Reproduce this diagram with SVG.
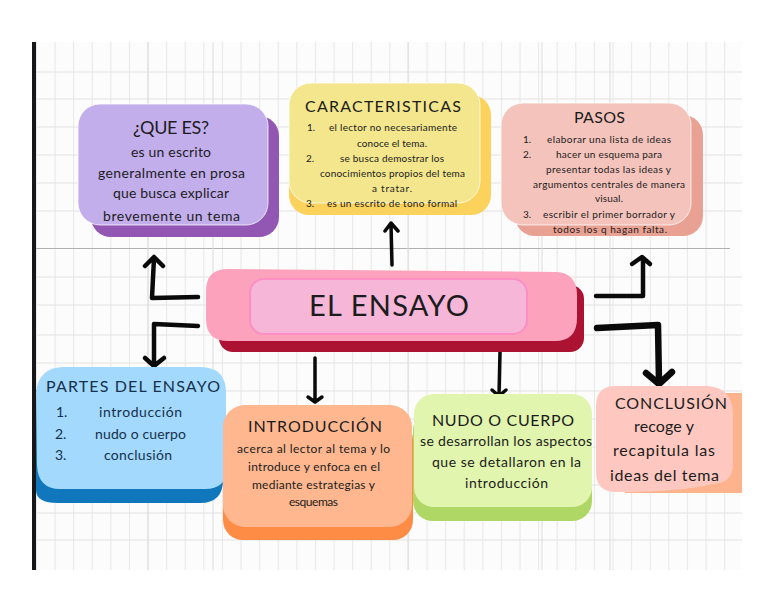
<svg xmlns="http://www.w3.org/2000/svg" width="768" height="594" viewBox="0 0 768 594">
<style>
text{font-family:"Lato","Noto Sans",sans-serif;fill:#1c1c1c}
.h{font-size:16px}
.s{font-size:10px}
.m{font-size:12px}
.b{font-size:14px}
.c{font-size:16px}
.blue{fill:#17304c}
.edge{fill:none;stroke:#0a0a0a;stroke-linecap:round;stroke-linejoin:round;stroke-width:3.5}
.thin{stroke:#ffffff;stroke-opacity:.75;stroke-width:1}
</style>
<defs>
<pattern id="vg" x="32" y="42" width="18.6" height="600" patternUnits="userSpaceOnUse">
<path d="M4.5 0V600" stroke="#e6e6e6" stroke-width="1" fill="none"/>
</pattern>
</defs>
<rect width="768" height="594" fill="#ffffff"/>
<g id="paper">
<rect x="32" y="42" width="710" height="528" fill="#fcfcfc"/>
<rect x="36" y="42" width="706" height="528" fill="url(#vg)"/>
<path d="M36 72H742M36 99H742M36 127H742M36 155H742M36 183H742M36 211H742M36 277H742M36 305H742M36 335H742M36 363H742M36 391H742M36 419H742M36 447H742M36 485H742M36 513H742M36 540H742" stroke="#e2e2e2" stroke-width="1" fill="none"/>
<path d="M36 248.500H730" stroke="#b0b0b0" stroke-width="1" fill="none"/>
<path d="M148 42V570M213 42V570M408 42V570M542 42V570M610 42V570" stroke="#dcdcdc" stroke-width="1" fill="none"/>
<rect x="32" y="42" width="4" height="528" fill="#17171a"/>
</g>
<g id="connectors">
<path class="edge" style="stroke-width:4.500" d="M198 297L152 298L154 258M145 266L154 257L163 266"/>
<path class="edge" d="M392 265L391 224M385 231L391 223L398 231"/>
<path class="edge" style="stroke-width:4.500" d="M596 296L643 296L643 258M632 264L642 257L650 264"/>
<path class="edge" style="stroke-width:4.500" d="M198 326L154 324L154 365M145 358L154 366L164 358"/>
<path class="edge" d="M315 358L315 402M308 397L315 402L322 397"/>
<path class="edge" d="M500 352L499 395M492 390L499 396L506 390"/>
<path class="edge" style="stroke-width:6.500" d="M597 328L658 325L659 382M646 373L659 384L672 372"/>
</g>
<g id="node-que-es">
<rect x="91" y="116" width="188" height="121" rx="20" fill="#9256b3"/>
<rect class="thin" x="78" y="104" width="190" height="121" rx="22" fill="#c3aeec"/>
<text x="133" y="134" style="font-size:18px" textLength="76">¿QUE ES?</text>
<text class="b" x="131" y="157" textLength="80">es un escrito</text>
<text class="b" x="98" y="178" textLength="147">generalmente en prosa</text>
<text class="b" x="113" y="198" textLength="116">que busca explicar</text>
<text class="b" x="103" y="221" textLength="137">brevemente un  tema</text>
</g>
<g id="node-caracteristicas">
<rect x="289" y="95" width="202" height="120" rx="20" fill="#fbd25c"/>
<rect class="thin" x="289" y="83" width="191" height="120" rx="22" fill="#f3e68d"/>
<text class="h" x="305" y="112" textLength="156">CARACTERISTICAS</text>
<text class="s" x="307" y="131">1.</text>
<text class="s" x="329" y="131" textLength="128">el lector no necesariamente</text>
<text class="s" x="357" y="147" textLength="70">conoce el tema.</text>
<text class="s" x="306" y="162">2.</text>
<text class="s" x="340" y="162" textLength="104">se busca demostrar los</text>
<text class="s" x="320" y="177" textLength="145">conocimientos propios del tema</text>
<text class="s" x="372" y="192" textLength="40">a tratar.</text>
<text class="s" x="306" y="207">3.</text>
<text class="s" x="327" y="207" textLength="130">es un escrito de tono formal</text>
</g>
<g id="node-pasos">
<rect x="515" y="115" width="188" height="121" rx="20" fill="#e9a193"/>
<rect class="thin" x="501" y="103" width="190" height="122" rx="22" fill="#f4c3bb"/>
<text class="h" x="574" y="123" textLength="51">PASOS</text>
<text class="s" x="523" y="143">1.</text>
<text class="s" x="547" y="143" textLength="124">elaborar una lista de ideas</text>
<text class="s" x="523" y="158">2.</text>
<text class="s" x="556" y="158" textLength="106">hacer un esquema para</text>
<text class="s" x="546" y="173" textLength="125">presentar todas las ideas y</text>
<text class="s" x="533" y="188" textLength="152">argumentos centrales de manera</text>
<text class="s" x="595" y="202" textLength="28">visual.</text>
<text class="s" x="523" y="218">3.</text>
<text class="s" x="543" y="218" textLength="132">escribir el primer borrador y</text>
<text class="s" x="553" y="233" textLength="114">todos los q hagan falta.</text>
</g>
<g id="node-ensayo">
<rect x="219" y="285" width="365" height="67" rx="14" fill="#ac1232"/>
<path d="M228 269L556 272Q577 273 577 295L577 318Q577 341 555 341L228 341Q206 341 206 319L206 291Q206 269 228 269Z" fill="#fda2bd"/>
<rect x="250" y="279" width="277" height="55" rx="14" fill="#f5b6d8" stroke="#fb8fc4" stroke-width="2"/>
<text x="309" y="316" style="font-size:29px" textLength="160">EL ENSAYO</text>
</g>
<g id="node-partes">
<path d="M36 390H223V480Q223 503 200 503H58Q36 503 36 490Z" fill="#1077bd"/>
<path d="M36 392Q39 367 64 367H200Q226 367 226 393V470Q226 489 205 489H60Q38 489 37 465Z" fill="#a2d9fd"/>
<text class="h blue" x="46" y="392" textLength="174">PARTES DEL ENSAYO</text>
<text class="b blue" x="56" y="417">1.</text>
<text class="b blue" x="99" y="417" textLength="83">introducción</text>
<text class="b blue" x="55" y="439">2.</text>
<text class="b blue" x="95" y="439" textLength="91">nudo o cuerpo</text>
<text class="b blue" x="55" y="460">3.</text>
<text class="b blue" x="104" y="460" textLength="68">conclusión</text>
</g>
<g id="node-introduccion">
<rect x="223" y="420" width="190" height="120" rx="20" fill="#ff8c45"/>
<rect x="223" y="405" width="189" height="122" rx="22" fill="#feb78f"/>
<text class="h" x="248" y="432" textLength="134">INTRODUCCIÓN</text>
<text class="m" x="237" y="453" textLength="153">acerca al lector al tema y lo</text>
<text class="m" x="248" y="471" textLength="132">introduce y enfoca en el</text>
<text class="m" x="252" y="489" textLength="123">mediante estrategias y</text>
<text class="m" x="289" y="506" textLength="49">esquemas</text>
</g>
<g id="node-nudo">
<rect x="413" y="410" width="179" height="111" rx="20" fill="#afd765"/>
<rect x="414" y="394" width="178" height="113" rx="20" fill="#e1f5ae"/>
<text class="h" x="432" y="426" textLength="142">NUDO O CUERPO</text>
<text class="b" x="420" y="446" textLength="172">se desarrollan los aspectos</text>
<text class="b" x="432" y="467" textLength="149">que se detallaron en la</text>
<text class="b" x="465" y="488" textLength="83">introducción</text>
</g>
<g id="node-conclusion">
<path d="M625 393H742V493H625Z" fill="#fdb48c"/>
<path d="M616 386H708Q733 388 733 415V465Q733 483 712 484Q680 492 616 492Q596 492 596 472V406Q596 386 616 386Z" fill="#fec8c0"/>
<text class="h" x="615" y="409" textLength="112">CONCLUSIÓN</text>
<text class="c" x="634" y="432" textLength="60">recoge y</text>
<text class="c" x="613" y="456" textLength="102">recapitula las</text>
<text class="c" x="610" y="481" textLength="109">ideas del tema</text>
</g>
</svg>
